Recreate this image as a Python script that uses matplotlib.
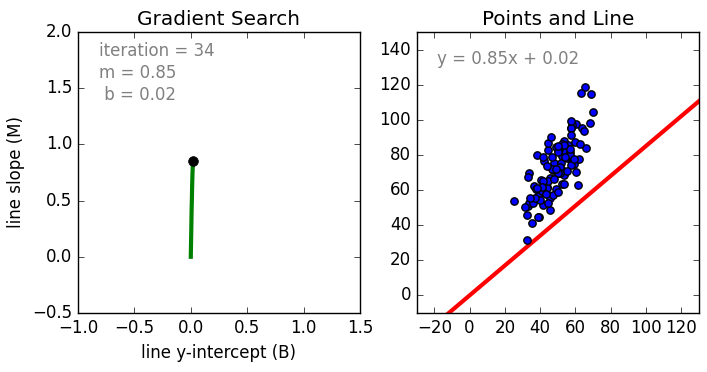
import numpy as np
import matplotlib
matplotlib.use('Agg')
import matplotlib.pyplot as plt

# gradient search path (b, m)
path_b = [0.0, 0.004, 0.007, 0.010, 0.012, 0.014, 0.016, 0.018, 0.02]
path_m = [0.0, 0.22, 0.40, 0.53, 0.63, 0.71, 0.77, 0.82, 0.85]
iteration = 34
m_final = 0.85
b_final = 0.02

# scatter points (x, y)
pts_x = [32.5, 53.4, 61.5, 47.5, 59.8, 55.1, 52.2, 39.3, 48.1, 52.6,
         45.4, 54.4, 44.2, 58.2, 56.7, 49.0, 44.7, 60.3, 45.6, 38.8,
         66.2, 65.4, 47.5, 41.6, 51.8, 59.4, 57.3, 63.6, 46.7, 50.6,
         52.2, 35.6, 42.4, 58.2, 57.5, 45.4, 61.9, 33.1, 36.4, 37.7,
         44.6, 43.3, 50.1, 43.9, 63.0, 32.7, 40.2, 53.6, 33.9, 64.7,
         38.1, 44.5, 40.6, 41.7, 51.1, 55.1, 41.4, 62.5, 49.2, 41.1,
         41.2, 50.2, 52.4, 50.1, 33.6, 39.6, 56.1, 57.4, 60.3, 35.7,
         31.6, 53.7, 46.7, 43.1, 70.3, 44.5, 57.5, 36.9, 55.8, 39.0,
         56.9, 56.9, 34.3, 59.0, 57.8, 54.3, 51.1, 50.3, 44.2, 38.0,
         32.9, 53.7, 68.8, 46.2, 68.3, 50.0, 49.2, 50.0, 48.1, 25.1]
pts_y = [31.7, 68.8, 62.6, 71.5, 87.2, 78.2, 79.6, 59.2, 75.3, 71.3,
         55.2, 82.5, 62.0, 75.4, 81.4, 60.7, 82.9, 97.4, 48.8, 56.9,
         83.9, 118.6, 57.3, 51.4, 75.4, 74.8, 95.5, 95.2, 79.1, 83.4,
         63.4, 41.4, 76.6, 96.8, 74.1, 66.6, 77.8, 50.7, 62.1, 60.8,
         52.7, 58.6, 82.9, 61.4, 115.2, 45.6, 54.1, 88.0, 52.7, 93.6,
         80.2, 65.1, 65.6, 65.3, 73.4, 71.1, 79.1, 86.5, 84.7, 59.4,
         61.7, 69.8, 86.1, 59.1, 69.9, 44.9, 85.5, 95.5, 70.3, 52.7,
         50.4, 63.6, 72.2, 57.8, 104.3, 86.6, 91.5, 55.2, 79.6, 44.8,
         80.2, 83.1, 55.7, 77.6, 99.1, 79.1, 69.6, 69.5, 73.7, 61.4,
         67.2, 85.7, 114.9, 90.1, 97.9, 81.5, 72.1, 85.2, 66.2, 53.5]

plt.style.use('classic')
fig = plt.figure(figsize=(7.07, 3.72), dpi=100, facecolor='white')

# left: gradient search
ax1 = fig.add_axes([0.1103, 0.1586, 0.3989, 0.7554])
ax1.plot(path_b, path_m, color='green', lw=3)
ax1.plot([b_final], [m_final], 'o', color='black', ms=7)
ax1.set_xlim(-1.0, 1.5)
ax1.set_ylim(-0.5, 2.0)
ax1.set_title('Gradient Search')
ax1.set_xlabel('line y-intercept (B)')
ax1.set_ylabel('line slope (M)')
ax1.text(-0.81, 1.915, 'iteration = %d\nm = %.2f\n b = %.2f' % (iteration, m_final, b_final),
         color='gray', va='top', ha='left', fontsize=12, linespacing=1.3)

# right: points and fitted line
ax2 = fig.add_axes([0.5894, 0.1586, 0.3989, 0.7554])
ax2.scatter(pts_x, pts_y, c='blue', edgecolors='black', s=28, zorder=3)
line_x = np.array([-30, 130])
ax2.plot(line_x, m_final * line_x + b_final, color='red', lw=3)
ax2.set_xlim(-30, 130)
ax2.set_ylim(-10, 150)
ax2.set_xticks(range(-20, 121, 20))
ax2.set_yticks(range(0, 141, 20))
ax2.set_title('Points and Line')
ax2.text(-18.5, 140, 'y = %.2fx + %.2f' % (m_final, b_final),
         color='gray', va='top', ha='left', fontsize=12)

fig.savefig('out.png', dpi=100, facecolor='white')
